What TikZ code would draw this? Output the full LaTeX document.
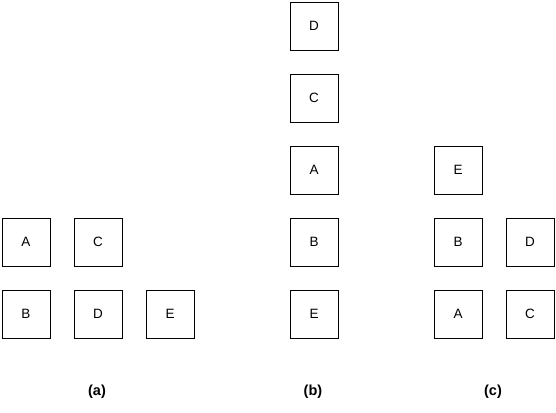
\documentclass[tikz,border=0pt]{standalone}
\usepackage{fontspec}
\setmainfont{Liberation Sans}
\begin{document}
\begin{tikzpicture}[x=1pt,y=-1pt,
  blk/.style={draw=black,line width=0.8pt,minimum size=48pt,inner sep=0pt,font=\fontsize{13.5}{15}\selectfont},
  caption label/.style={font=\bfseries\fontsize{14.5}{16}\selectfont,inner sep=0pt}]
\useasboundingbox (0,0) rectangle (556,412);
% (a)
\node[blk] (aA) at (26,242) {A};
\node[blk] (aC) at (98,242) {C};
\node[blk] (aB) at (26,314) {B};
\node[blk] (aD) at (98,314) {D};
\node[blk] (aE) at (170,314) {E};
\node[caption label] (la) at (97,392) {(a)};
% (b)
\node[blk] (bD) at (314,26) {D};
\node[blk] (bC) at (314,98) {C};
\node[blk] (bA) at (314,170) {A};
\node[blk] (bB) at (314,242) {B};
\node[blk] (bE) at (314,314) {E};
\node[caption label] (lb) at (313,392) {(b)};
% (c)
\node[blk] (cE) at (458,170) {E};
\node[blk] (cB) at (458,242) {B};
\node[blk] (cD) at (530,242) {D};
\node[blk] (cA) at (458,314) {A};
\node[blk] (cC) at (530,314) {C};
\node[caption label] (lc) at (493,392) {(c)};
\end{tikzpicture}
\end{document}
